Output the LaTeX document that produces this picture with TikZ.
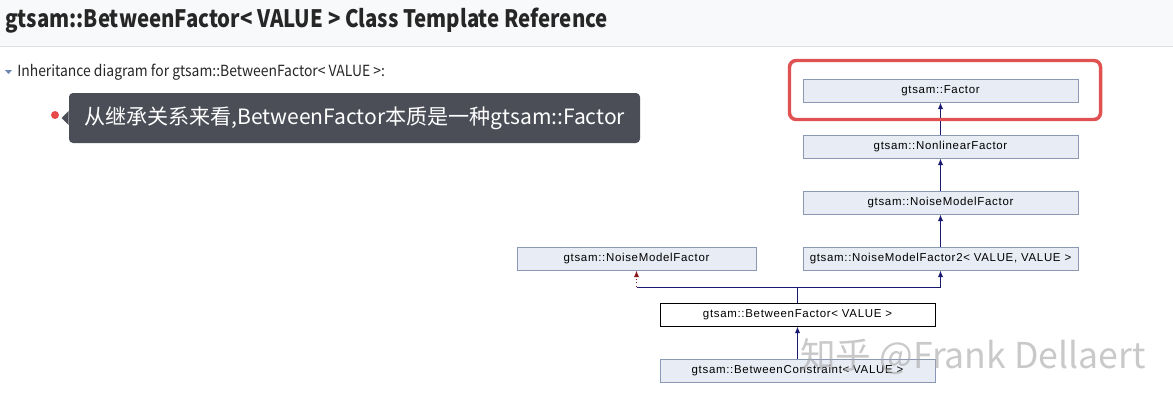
\documentclass[tikz,border=0pt]{standalone}
\usepackage{fontspec}
\setmainfont{Noto Sans CJK SC}
\newfontfamily\dgfont[LetterSpace=6]{Liberation Sans}
\usetikzlibrary{arrows.meta}
\definecolor{boxfill}{HTML}{E8ECF5}
\definecolor{boxline}{HTML}{8A97B5}
\definecolor{navy}{HTML}{191970}
\definecolor{darkred}{HTML}{8B1A1A}
\definecolor{tipgray}{HTML}{4B4E57}
\definecolor{hlred}{HTML}{E05252}
\definecolor{dotred}{HTML}{E84A4A}
\definecolor{headbg}{HTML}{F8F9FA}
\definecolor{headline}{HTML}{DCDFE3}
\definecolor{togglec}{HTML}{6B86B0}
\begin{document}
\begin{tikzpicture}[x=0.75pt, y=-0.75pt,
    classbox/.style ={draw=boxline, fill=boxfill, line width=0.75pt, inner sep=0pt,
      minimum width=206.25pt, minimum height=17.25pt,
      font=\dgfont\fontsize{8.6pt}{10pt}\selectfont},
    current/.style ={classbox, draw=black, fill=white},
    inherit/.style ={navy, line width=0.75pt, -{Latex[length=5pt,width=4pt]}},
    private/.style ={darkred, line width=0.75pt, dotted, -{Latex[length=5pt,width=4pt]}},
    tooltip/.style ={fill=tipgray, rounded corners=3pt, text=white, inner sep=0pt,
      minimum width=428.25pt, minimum height=37.5pt,
      font=\fontsize{15.8pt}{18pt}\selectfont}]
   \useasboundingbox (0,0) rectangle (1173,401);
   \fill[white] (0,0) rectangle (1173,401);
   \fill[headbg] (0,0) rectangle (1173,46);
   \draw[headline] (0,46.5) -- (1173,46.5);

   \node[anchor=base west, inner sep=0pt, text=black!85] (T) at (5,27)
     {\scalebox{0.85}[1]{\fontsize{18pt}{20pt}\selectfont\bfseries gtsam::BetweenFactor< VALUE > Class Template Reference}};
   \fill[togglec] (5,70) -- (12,70) -- (8.5,74) -- cycle;
   \node[anchor=base west, inner sep=0pt, text=black!85] (H) at (17,76)
     {\scalebox{0.907}[1]{\fontsize{11.5pt}{13pt}\selectfont Inheritance diagram for gtsam::BetweenFactor< VALUE >:}};

   \fill[dotred] (55,115) circle[radius=3pt];
   \node[tooltip] (tip) at (354.5,118) {从继承关系来看,BetweenFactor本质是一种gtsam::Factor};
   \fill[tipgray] ([yshift=5.25pt]tip.west) -- ++(-7,7) -- ++(7,7) -- cycle;

   \node[classbox] (A) at (940.5,90.5)  {gtsam::Factor};
   \node[classbox] (B) at (940.5,146.5) {gtsam::NonlinearFactor};
   \node[classbox] (C) at (940.5,202.5) {gtsam::NoiseModelFactor};
   \node[classbox] (D) at (940.5,258.5) {gtsam::NoiseModelFactor2< VALUE, VALUE >};
   \node[classbox, minimum width=179.25pt] (E) at (636.5,258.5) {gtsam::NoiseModelFactor};
   \node[current] (F) at (797.5,314.5) {gtsam::BetweenFactor< VALUE >};
   \node[classbox] (G) at (797.5,370.5) {gtsam::BetweenConstraint< VALUE >};
   \coordinate (J) at (797.5,287);
   \coordinate (K) at (E.south |- J);

   \draw[inherit] (B) to (A);
   \draw[inherit] (C) to (B);
   \draw[inherit] (D) to (C);
   \draw[navy, line width=0.75pt] (F) to (J);
   \draw[navy, line width=0.75pt] (K) to (J);
   \draw[inherit] (J) -| (D);
   \draw[private] (K) to (E);
   \draw[inherit] (G) to (F);

   \draw[hlred, line width=2.6pt, rounded corners=5pt]
     ([shift={(-13,-18)}]A.north west) rectangle ([shift={(22,17)}]A.south east);
   \node[anchor=base west, inner sep=0pt, text=black!35, text opacity=0.6] (W) at (800,368)
     {\fontsize{26.7pt}{28pt}\selectfont 知乎 @Frank Dellaert};
 \end{tikzpicture}
\end{document}
